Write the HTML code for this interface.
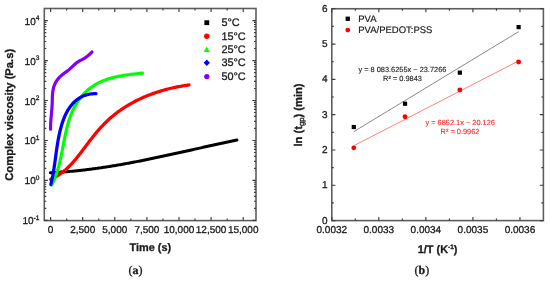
<!DOCTYPE html>
<html><head><meta charset="utf-8"><style>
html,body{margin:0;padding:0;background:#fff;}
body{width:550px;height:281px;overflow:hidden;}
svg{display:block;}
text{text-rendering:geometricPrecision;font-family:"Liberation Sans",Arial,sans-serif;fill:#1a1a1a;stroke:#1a1a1a;stroke-width:0.3px;}
.t10{font-size:10px;}
.sup{font-size:6.6px;}
.tb{font-size:10.9px;font-weight:bold;}
.supb{font-size:6.5px;font-weight:bold;}
.sub{font-size:7.6px;font-weight:normal;}
.t85{font-size:9.5px;stroke-width:0.18px;}
.t11{font-size:10.9px;}
.eq{font-size:7.4px;stroke-width:0.12px;fill:#222;stroke:#222;}
.eq.red{fill:#ff2a2a;stroke:#ff2a2a;}
.cap{font-family:"Liberation Serif","Times New Roman",serif;font-size:12px;}
</style></head><body>
<svg width="550" height="281" viewBox="0 0 550 281">
<rect x="44.3" y="8.5" width="211.7" height="212.1" fill="none" stroke="#5e5e5e" stroke-width="1.6"/>
<path d="M50.6,220.6v-3.6M50.6,8.5v3.6M82.7,220.6v-3.6M82.7,8.5v3.6M114.8,220.6v-3.6M114.8,8.5v3.6M146.9,220.6v-3.6M146.9,8.5v3.6M179,220.6v-3.6M179,8.5v3.6M211.1,220.6v-3.6M211.1,8.5v3.6M243.2,220.6v-3.6M243.2,8.5v3.6M66.65,220.6v-2.0M66.65,8.5v2.0M98.75,220.6v-2.0M98.75,8.5v2.0M130.85,220.6v-2.0M130.85,8.5v2.0M162.95,220.6v-2.0M162.95,8.5v2.0M195.05,220.6v-2.0M195.05,8.5v2.0M227.15,220.6v-2.0M227.15,8.5v2.0M44.3,220.35h3.6M256,220.35h-3.6M44.3,208.32h2.0M256,208.32h-2.0M44.3,201.29h2.0M256,201.29h-2.0M44.3,196.3h2.0M256,196.3h-2.0M44.3,192.43h2.0M256,192.43h-2.0M44.3,189.26h2.0M256,189.26h-2.0M44.3,186.59h2.0M256,186.59h-2.0M44.3,184.27h2.0M256,184.27h-2.0M44.3,182.23h2.0M256,182.23h-2.0M44.3,180.4h3.6M256,180.4h-3.6M44.3,168.37h2.0M256,168.37h-2.0M44.3,161.34h2.0M256,161.34h-2.0M44.3,156.35h2.0M256,156.35h-2.0M44.3,152.48h2.0M256,152.48h-2.0M44.3,149.31h2.0M256,149.31h-2.0M44.3,146.64h2.0M256,146.64h-2.0M44.3,144.32h2.0M256,144.32h-2.0M44.3,142.28h2.0M256,142.28h-2.0M44.3,140.45h3.6M256,140.45h-3.6M44.3,128.42h2.0M256,128.42h-2.0M44.3,121.39h2.0M256,121.39h-2.0M44.3,116.4h2.0M256,116.4h-2.0M44.3,112.53h2.0M256,112.53h-2.0M44.3,109.36h2.0M256,109.36h-2.0M44.3,106.69h2.0M256,106.69h-2.0M44.3,104.37h2.0M256,104.37h-2.0M44.3,102.33h2.0M256,102.33h-2.0M44.3,100.5h3.6M256,100.5h-3.6M44.3,88.47h2.0M256,88.47h-2.0M44.3,81.44h2.0M256,81.44h-2.0M44.3,76.45h2.0M256,76.45h-2.0M44.3,72.58h2.0M256,72.58h-2.0M44.3,69.41h2.0M256,69.41h-2.0M44.3,66.74h2.0M256,66.74h-2.0M44.3,64.42h2.0M256,64.42h-2.0M44.3,62.38h2.0M256,62.38h-2.0M44.3,60.55h3.6M256,60.55h-3.6M44.3,48.52h2.0M256,48.52h-2.0M44.3,41.49h2.0M256,41.49h-2.0M44.3,36.5h2.0M256,36.5h-2.0M44.3,32.63h2.0M256,32.63h-2.0M44.3,29.46h2.0M256,29.46h-2.0M44.3,26.79h2.0M256,26.79h-2.0M44.3,24.47h2.0M256,24.47h-2.0M44.3,22.43h2.0M256,22.43h-2.0M44.3,20.6h3.6M256,20.6h-3.6" stroke="#3c3c3c" stroke-width="1.15" fill="none"/>
<text x="50.6" y="233.0" class="t10" text-anchor="middle">0</text>
<text x="82.7" y="233.0" class="t10" text-anchor="middle">2,500</text>
<text x="114.8" y="233.0" class="t10" text-anchor="middle">5,000</text>
<text x="146.9" y="233.0" class="t10" text-anchor="middle">7,500</text>
<text x="179" y="233.0" class="t10" text-anchor="middle">10,000</text>
<text x="211.1" y="233.0" class="t10" text-anchor="middle">12,500</text>
<text x="243.2" y="233.0" class="t10" text-anchor="middle">15,000</text>
<text x="39.4" y="224.35" class="t10" text-anchor="end">10<tspan class="sup" dy="-4.4">-1</tspan></text>
<text x="39.4" y="184.4" class="t10" text-anchor="end">10<tspan class="sup" dy="-4.4">0</tspan></text>
<text x="39.4" y="144.45" class="t10" text-anchor="end">10<tspan class="sup" dy="-4.4">1</tspan></text>
<text x="39.4" y="104.5" class="t10" text-anchor="end">10<tspan class="sup" dy="-4.4">2</tspan></text>
<text x="39.4" y="64.55" class="t10" text-anchor="end">10<tspan class="sup" dy="-4.4">3</tspan></text>
<text x="39.4" y="24.6" class="t10" text-anchor="end">10<tspan class="sup" dy="-4.4">4</tspan></text>
<text x="150.4" y="251.4" class="tb" text-anchor="middle">Time (s)</text>
<text transform="translate(13.1,114.8) rotate(-90)" class="tb" style="font-size:11.2px" text-anchor="middle">Complex viscosity (Pa.s)</text>
<path d="M50.30,172.72 51.49,172.66 52.69,172.61 53.89,172.55 55.08,172.48 56.28,172.42 57.47,172.35 58.66,172.27 59.86,172.20 61.05,172.12 62.24,172.04 63.44,171.95 64.63,171.86 65.82,171.77 67.01,171.67 68.20,171.57 69.39,171.47 70.58,171.37 71.77,171.26 72.96,171.15 74.15,171.04 75.33,170.92 76.52,170.80 77.71,170.68 78.89,170.55 80.08,170.43 81.27,170.30 82.45,170.16 83.64,170.03 84.82,169.89 86.01,169.75 87.19,169.61 88.37,169.46 89.56,169.31 90.74,169.16 91.92,169.01 93.10,168.85 94.28,168.69 95.47,168.53 96.65,168.37 97.83,168.20 99.01,168.04 100.19,167.87 101.37,167.69 102.55,167.52 103.73,167.34 104.90,167.16 106.08,166.98 107.26,166.80 108.44,166.61 109.61,166.43 110.79,166.24 111.97,166.05 113.14,165.85 114.32,165.66 115.50,165.46 116.67,165.26 117.85,165.06 119.02,164.86 120.20,164.65 121.37,164.45 122.55,164.24 123.72,164.03 124.89,163.82 126.07,163.61 127.24,163.39 128.41,163.18 129.58,162.96 130.76,162.74 131.93,162.52 133.10,162.30 134.27,162.07 135.44,161.85 136.61,161.62 137.79,161.39 138.96,161.16 140.13,160.93 141.30,160.70 142.47,160.47 143.64,160.23 144.81,160.00 145.98,159.76 147.15,159.52 148.31,159.29 149.48,159.05 150.65,158.80 151.82,158.56 152.99,158.32 154.16,158.08 155.33,157.83 156.49,157.58 157.66,157.34 158.83,157.09 160.00,156.84 161.16,156.59 162.33,156.34 163.50,156.09 164.66,155.84 165.83,155.59 167.00,155.34 168.16,155.08 169.33,154.83 170.50,154.57 171.66,154.32 172.83,154.06 173.99,153.81 175.16,153.55 176.33,153.30 177.49,153.04 178.66,152.78 179.82,152.52 180.99,152.26 182.15,152.01 183.32,151.75 184.48,151.49 185.65,151.23 186.81,150.97 187.98,150.71 189.14,150.45 190.31,150.19 191.47,149.93 192.64,149.67 193.80,149.41 194.97,149.15 196.13,148.89 197.30,148.63 198.46,148.37 199.63,148.11 200.79,147.85 201.96,147.59 203.12,147.34 204.29,147.08 205.45,146.82 206.61,146.56 207.78,146.30 208.94,146.05 210.11,145.79 211.27,145.53 212.44,145.28 213.60,145.02 214.77,144.77 215.93,144.51 217.10,144.26 218.26,144.01 219.43,143.75 220.59,143.50 221.76,143.25 222.92,143.00 224.09,142.75 225.25,142.50 226.42,142.25 227.58,142.01 228.75,141.76 229.91,141.52 231.08,141.27 232.24,141.03 233.41,140.78 234.57,140.54 235.74,140.30 236.91,140.06" stroke="#000" stroke-width="3.0" fill="none" stroke-linecap="round" stroke-linejoin="round"/>
<path d="M50.64,179.24 51.67,178.79 52.69,178.31 53.69,177.81 54.68,177.30 55.65,176.77 56.60,176.22 57.54,175.65 58.46,175.07 59.37,174.47 60.26,173.86 61.14,173.23 62.01,172.59 62.86,171.93 63.70,171.26 64.53,170.57 65.35,169.88 66.15,169.17 66.95,168.45 67.73,167.71 68.51,166.97 69.28,166.21 70.03,165.45 70.78,164.67 71.52,163.89 72.25,163.10 72.97,162.30 73.69,161.49 74.40,160.67 75.10,159.85 75.80,159.02 76.49,158.18 77.18,157.34 77.86,156.49 78.54,155.64 79.21,154.79 79.88,153.93 80.55,153.07 81.21,152.20 81.87,151.33 82.53,150.46 83.19,149.59 83.85,148.72 84.51,147.84 85.17,146.97 85.82,146.09 86.48,145.22 87.14,144.34 87.79,143.47 88.45,142.60 89.11,141.72 89.78,140.85 90.44,139.99 91.11,139.12 91.78,138.26 92.45,137.40 93.13,136.54 93.81,135.69 94.49,134.84 95.18,133.99 95.88,133.15 96.57,132.31 97.28,131.48 97.99,130.66 98.70,129.83 99.42,129.02 100.15,128.21 100.88,127.41 101.62,126.61 102.36,125.82 103.11,125.03 103.86,124.25 104.63,123.48 105.39,122.71 106.17,121.96 106.95,121.21 107.74,120.46 108.53,119.73 109.33,119.00 110.14,118.28 110.95,117.57 111.77,116.86 112.60,116.17 113.44,115.48 114.28,114.80 115.12,114.13 115.98,113.46 116.84,112.80 117.70,112.16 118.58,111.52 119.45,110.88 120.34,110.26 121.23,109.64 122.12,109.03 123.02,108.43 123.93,107.83 124.84,107.25 125.76,106.67 126.68,106.10 127.61,105.54 128.54,104.98 129.48,104.43 130.42,103.89 131.37,103.36 132.32,102.83 133.27,102.32 134.23,101.80 135.20,101.30 136.17,100.81 137.14,100.32 138.12,99.84 139.10,99.37 140.08,98.90 141.07,98.44 142.06,97.99 143.06,97.55 144.06,97.11 145.06,96.68 146.07,96.26 147.08,95.85 148.09,95.44 149.10,95.04 150.12,94.65 151.14,94.26 152.17,93.88 153.19,93.51 154.22,93.15 155.26,92.79 156.29,92.44 157.33,92.10 158.36,91.76 159.40,91.43 160.45,91.11 161.49,90.80 162.54,90.49 163.59,90.19 164.64,89.89 165.69,89.61 166.74,89.33 167.79,89.05 168.85,88.79 169.91,88.53 170.96,88.28 172.02,88.03 173.08,87.79 174.14,87.56 175.20,87.33 176.26,87.11 177.33,86.90 178.39,86.69 179.45,86.50 180.51,86.30 181.58,86.12 182.64,85.94 183.70,85.77 184.77,85.60 185.83,85.44 186.89,85.29 187.95,85.14 189.02,85.00" stroke="#ff0000" stroke-width="3.25" fill="none" stroke-linecap="round" stroke-linejoin="round"/>
<path d="M51.49,185.12 51.96,184.24 52.42,183.35 52.86,182.46 53.29,181.56 53.71,180.65 54.11,179.74 54.50,178.83 54.88,177.90 55.25,176.98 55.61,176.04 55.96,175.11 56.30,174.16 56.63,173.22 56.94,172.26 57.25,171.31 57.55,170.35 57.85,169.38 58.13,168.41 58.40,167.44 58.67,166.47 58.93,165.49 59.19,164.50 59.44,163.52 59.68,162.53 59.91,161.54 60.15,160.54 60.37,159.55 60.59,158.55 60.81,157.55 61.02,156.55 61.23,155.54 61.44,154.53 61.64,153.53 61.84,152.52 62.04,151.51 62.24,150.50 62.43,149.48 62.62,148.47 62.82,147.46 63.01,146.44 63.20,145.43 63.40,144.41 63.59,143.40 63.78,142.39 63.98,141.37 64.18,140.36 64.37,139.35 64.58,138.33 64.78,137.32 64.99,136.31 65.20,135.31 65.41,134.30 65.63,133.30 65.85,132.29 66.08,131.29 66.31,130.29 66.55,129.30 66.80,128.30 67.05,127.31 67.30,126.32 67.57,125.34 67.84,124.36 68.12,123.38 68.40,122.40 68.70,121.43 69.00,120.46 69.31,119.50 69.63,118.54 69.97,117.58 70.31,116.63 70.66,115.68 71.02,114.74 71.40,113.80 71.78,112.87 72.18,111.94 72.59,111.02 73.01,110.11 73.44,109.20 73.89,108.29 74.35,107.39 74.83,106.50 75.31,105.61 75.82,104.73 76.33,103.86 76.86,103.00 77.41,102.14 77.97,101.30 78.54,100.46 79.13,99.63 79.72,98.82 80.34,98.01 80.97,97.21 81.61,96.43 82.26,95.66 82.93,94.90 83.61,94.15 84.31,93.42 85.02,92.70 85.74,91.99 86.48,91.30 87.23,90.62 87.99,89.96 88.76,89.31 89.55,88.68 90.35,88.07 91.17,87.46 91.99,86.88 92.82,86.30 93.67,85.75 94.53,85.21 95.39,84.68 96.27,84.17 97.16,83.67 98.05,83.19 98.96,82.72 99.87,82.27 100.79,81.84 101.72,81.42 102.66,81.01 103.60,80.62 104.55,80.25 105.51,79.89 106.47,79.55 107.44,79.21 108.42,78.90 109.40,78.59 110.38,78.30 111.37,78.02 112.37,77.75 113.37,77.49 114.37,77.25 115.37,77.01 116.38,76.79 117.39,76.57 118.40,76.36 119.42,76.17 120.43,75.98 121.45,75.79 122.46,75.62 123.48,75.45 124.50,75.29 125.52,75.14 126.53,74.99 127.55,74.85 128.56,74.71 129.57,74.58 130.58,74.45 131.59,74.33 132.59,74.21 133.60,74.09 134.59,73.97 135.59,73.86 136.58,73.75 137.56,73.64 138.54,73.53 139.52,73.42 140.49,73.31 141.45,73.20 142.41,73.09" stroke="#00ff00" stroke-width="3.2" fill="none" stroke-linecap="round" stroke-linejoin="round"/>
<path d="M50.82,184.42 50.99,183.74 51.16,183.05 51.32,182.37 51.48,181.69 51.64,181.00 51.79,180.32 51.94,179.64 52.09,178.96 52.23,178.27 52.37,177.59 52.51,176.91 52.64,176.22 52.78,175.54 52.90,174.86 53.03,174.17 53.15,173.49 53.27,172.80 53.39,172.12 53.51,171.44 53.62,170.75 53.73,170.07 53.84,169.38 53.95,168.70 54.06,168.02 54.16,167.33 54.27,166.65 54.37,165.96 54.47,165.28 54.57,164.60 54.67,163.91 54.76,163.23 54.86,162.54 54.96,161.86 55.05,161.17 55.14,160.49 55.24,159.81 55.33,159.12 55.42,158.44 55.52,157.75 55.61,157.07 55.70,156.39 55.79,155.70 55.89,155.02 55.98,154.33 56.07,153.65 56.17,152.96 56.26,152.28 56.36,151.60 56.45,150.91 56.55,150.23 56.65,149.55 56.74,148.86 56.84,148.18 56.94,147.49 57.05,146.81 57.15,146.13 57.26,145.44 57.36,144.76 57.47,144.08 57.58,143.39 57.70,142.71 57.81,142.03 57.93,141.35 58.05,140.66 58.17,139.98 58.29,139.30 58.42,138.61 58.55,137.93 58.68,137.25 58.82,136.57 58.95,135.89 59.09,135.20 59.24,134.52 59.39,133.84 59.54,133.16 59.69,132.48 59.85,131.80 60.01,131.12 60.18,130.43 60.35,129.75 60.52,129.07 60.70,128.39 60.88,127.71 61.06,127.03 61.25,126.36 61.45,125.68 61.65,125.00 61.85,124.33 62.06,123.65 62.28,122.98 62.50,122.31 62.72,121.65 62.95,120.98 63.19,120.32 63.43,119.66 63.68,119.01 63.94,118.36 64.20,117.71 64.47,117.06 64.74,116.42 65.02,115.78 65.31,115.15 65.60,114.52 65.90,113.90 66.21,113.28 66.53,112.67 66.85,112.06 67.18,111.45 67.52,110.86 67.87,110.27 68.22,109.68 68.58,109.10 68.95,108.53 69.33,107.96 69.72,107.40 70.12,106.85 70.52,106.31 70.94,105.77 71.36,105.24 71.79,104.72 72.23,104.21 72.69,103.70 73.15,103.21 73.61,102.72 74.09,102.24 74.58,101.77 75.08,101.32 75.59,100.87 76.10,100.43 76.63,100.01 77.16,99.59 77.71,99.19 78.26,98.80 78.82,98.42 79.39,98.05 79.98,97.69 80.57,97.35 81.17,97.02 81.78,96.71 82.40,96.41 83.02,96.12 83.66,95.85 84.31,95.59 84.97,95.35 85.63,95.12 86.31,94.91 87.00,94.71 87.69,94.53 88.39,94.37 89.11,94.23 89.83,94.10 90.57,93.99 91.31,93.89 92.06,93.82 92.82,93.76 93.59,93.72 94.38,93.70 95.17,93.70 95.97,93.72" stroke="#0000ff" stroke-width="3.25" fill="none" stroke-linecap="round" stroke-linejoin="round"/>
<path d="M50.54,129.23 50.54,128.40 50.54,127.58 50.56,126.76 50.58,125.95 50.60,125.14 50.63,124.33 50.67,123.53 50.71,122.73 50.76,121.93 50.82,121.14 50.87,120.35 50.93,119.56 51.00,118.77 51.06,117.98 51.13,117.19 51.20,116.41 51.27,115.62 51.34,114.84 51.41,114.06 51.49,113.27 51.56,112.49 51.63,111.70 51.70,110.91 51.76,110.13 51.83,109.34 51.89,108.54 51.95,107.75 52.00,106.95 52.05,106.15 52.10,105.35 52.14,104.54 52.17,103.73 52.20,102.92 52.22,102.11 52.25,101.29 52.27,100.47 52.29,99.65 52.31,98.82 52.34,98.00 52.37,97.18 52.40,96.36 52.45,95.55 52.50,94.73 52.56,93.92 52.64,93.11 52.72,92.31 52.82,91.51 52.94,90.72 53.07,89.93 53.22,89.15 53.39,88.38 53.58,87.62 53.79,86.86 54.03,86.12 54.30,85.38 54.58,84.66 54.90,83.94 55.24,83.24 55.60,82.55 55.99,81.87 56.40,81.21 56.83,80.55 57.29,79.91 57.76,79.29 58.26,78.67 58.78,78.07 59.31,77.49 59.87,76.92 60.44,76.37 61.03,75.83 61.64,75.31 62.26,74.80 62.89,74.30 63.53,73.81 64.18,73.32 64.83,72.83 65.49,72.35 66.14,71.87 66.79,71.38 67.44,70.89 68.08,70.40 68.71,69.89 69.33,69.37 69.93,68.84 70.53,68.30 71.12,67.76 71.70,67.20 72.27,66.65 72.85,66.09 73.42,65.54 74.00,65.00 74.58,64.46 75.17,63.94 75.77,63.42 76.38,62.93 77.01,62.45 77.65,62.00 78.31,61.57 78.99,61.17 79.69,60.79 80.41,60.42 81.12,60.06 81.84,59.70 82.55,59.32 83.25,58.93 83.94,58.53 84.62,58.11 85.29,57.68 85.95,57.23 86.60,56.77 87.24,56.30 87.87,55.81 88.49,55.30 89.10,54.78 89.69,54.24 90.28,53.69 90.85,53.12 91.41,52.54 91.95,51.94" stroke="#8000ff" stroke-width="3.2" fill="none" stroke-linecap="round" stroke-linejoin="round"/>
<rect x="204.4" y="20.3" width="4.8" height="4.8" fill="#000"/>
<circle cx="206.8" cy="36.3" r="2.7" fill="#ff0000"/>
<path d="M206.8,46.6 L209.9,52 L203.7,52 Z" fill="#00ff00"/>
<path d="M206.8,59.6 L209.9,62.8 L206.8,66 L203.7,62.8 Z" fill="#0000ff"/>
<circle cx="206.8" cy="76.6" r="2.7" fill="#8000ff"/>
<text x="221.4" y="26.4" class="t11">5°C</text>
<text x="221.4" y="39.8" class="t11">15°C</text>
<text x="221.4" y="53.2" class="t11">25°C</text>
<text x="221.4" y="66.4" class="t11">35°C</text>
<text x="221.4" y="79.7" class="t11">50°C</text>
<text x="135.5" y="273.9" class="cap" text-anchor="middle">(<tspan font-weight="bold">a</tspan>)</text>
<rect x="331.8" y="8.75" width="211.6" height="211.85" fill="none" stroke="#5e5e5e" stroke-width="1.6"/>
<path d="M331.8,220.6v-3.6M331.8,8.75v3.6M378.84,220.6v-3.6M378.84,8.75v3.6M425.88,220.6v-3.6M425.88,8.75v3.6M472.92,220.6v-3.6M472.92,8.75v3.6M519.96,220.6v-3.6M519.96,8.75v3.6M355.32,220.6v-2.0M355.32,8.75v2.0M402.36,220.6v-2.0M402.36,8.75v2.0M449.4,220.6v-2.0M449.4,8.75v2.0M496.44,220.6v-2.0M496.44,8.75v2.0M331.8,220.6h3.6M543.4,220.6h-3.6M331.8,202.94h2.0M543.4,202.94h-2.0M331.8,185.29h3.6M543.4,185.29h-3.6M331.8,167.63h2.0M543.4,167.63h-2.0M331.8,149.98h3.6M543.4,149.98h-3.6M331.8,132.32h2.0M543.4,132.32h-2.0M331.8,114.67h3.6M543.4,114.67h-3.6M331.8,97.01h2.0M543.4,97.01h-2.0M331.8,79.36h3.6M543.4,79.36h-3.6M331.8,61.7h2.0M543.4,61.7h-2.0M331.8,44.05h3.6M543.4,44.05h-3.6M331.8,26.39h2.0M543.4,26.39h-2.0M331.8,8.74h3.6M543.4,8.74h-3.6" stroke="#3c3c3c" stroke-width="1.15" fill="none"/>
<text x="331.8" y="233.0" class="t10" text-anchor="middle">0.0032</text>
<text x="378.84" y="233.0" class="t10" text-anchor="middle">0.0033</text>
<text x="425.88" y="233.0" class="t10" text-anchor="middle">0.0034</text>
<text x="472.92" y="233.0" class="t10" text-anchor="middle">0.0035</text>
<text x="519.96" y="233.0" class="t10" text-anchor="middle">0.0036</text>
<text x="327.6" y="223.5" class="t10" text-anchor="end">0</text>
<text x="327.6" y="188.19" class="t10" text-anchor="end">1</text>
<text x="327.6" y="152.88" class="t10" text-anchor="end">2</text>
<text x="327.6" y="117.57" class="t10" text-anchor="end">3</text>
<text x="327.6" y="82.26" class="t10" text-anchor="end">4</text>
<text x="327.6" y="46.95" class="t10" text-anchor="end">5</text>
<text x="327.6" y="11.64" class="t10" text-anchor="end">6</text>
<text x="437.6" y="252.6" class="tb" text-anchor="middle">1/T (K<tspan class="supb" dy="-4">-1</tspan><tspan dy="4">)</tspan></text>
<text transform="translate(301.6,115) rotate(-90)" class="tb" style="font-size:11.2px" text-anchor="middle">ln (t<tspan class="sub" dy="2.5">gp</tspan><tspan dy="-2.5">) (min)</tspan></text>
<line x1="353.79" y1="131.66" x2="518.61" y2="31.65" stroke="#6a6a6a" stroke-width="0.8"/>
<line x1="353.79" y1="145.7" x2="518.61" y2="60.93" stroke="#ff6060" stroke-width="0.8"/>
<rect x="351.69" y="124.93" width="4.2" height="4.2" fill="#000"/>
<rect x="402.94" y="101.62" width="4.2" height="4.2" fill="#000"/>
<rect x="457.75" y="70.55" width="4.2" height="4.2" fill="#000"/>
<rect x="516.51" y="25" width="4.2" height="4.2" fill="#000"/>
<circle cx="353.79" cy="147.86" r="2.45" fill="#ff0000"/>
<circle cx="405.04" cy="116.79" r="2.45" fill="#ff0000"/>
<circle cx="459.85" cy="89.95" r="2.45" fill="#ff0000"/>
<circle cx="518.61" cy="62.06" r="2.45" fill="#ff0000"/>
<rect x="345.6" y="16.6" width="4.3" height="4.3" fill="#000"/>
<circle cx="347.8" cy="30.1" r="2.45" fill="#ff0000"/>
<text x="358.2" y="21.8" class="t85">PVA</text>
<text x="358.2" y="33.0" class="t85">PVA/PEDOT:PSS</text>
<text x="402.4" y="72.4" class="eq" text-anchor="middle">y = 8 083.6255x − 23.7266</text>
<text x="402.5" y="81.2" class="eq" text-anchor="middle">R² = 0.9843</text>
<text x="460.2" y="124.6" class="eq red" text-anchor="middle">y = 6852.1x − 20.126</text>
<text x="460.0" y="133.8" class="eq red" text-anchor="middle">R² = 0.9962</text>
<text x="421.9" y="273.9" class="cap" text-anchor="middle">(<tspan font-weight="bold">b</tspan>)</text>
</svg>
</body></html>
